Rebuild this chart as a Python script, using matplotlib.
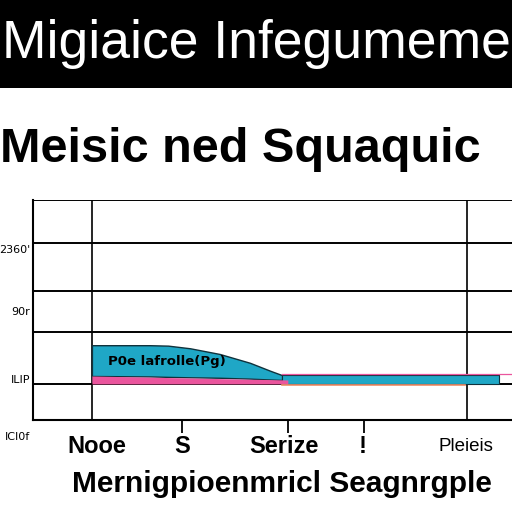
import numpy as np
import matplotlib
matplotlib.use("Agg")
import matplotlib.pyplot as plt
from matplotlib.patches import Rectangle

# text
title = "Migiaice Infegumeme"
subtitle = "Meisic ned Squaquic"
xlabel = "Mernigpioenmricl Seagnrgple"
band_label = "P0e lafrolle(Pg)"

# axis labels (garbled in the original)
ytick_labels = ["2360'", "90r", "ILIP", "ICI0f"]
ytick_pos = [3.86, 2.45, 0.91, -0.39]
xtick_labels = ["Nooe", "S", "Serize", "!", "Pleieis"]
xtick_pos = [13.4, 31.1, 52.4, 68.9, 90.4]
xtick_marks = [31.1, 53.2, 69.1]

grid_y = [0.82, 2.0, 2.93, 4.02, 5.0]
vlines_x = [12.3, 90.6]

# cyan area over the pink band
curve_x = [12.3, 24.4, 28.2, 32.8, 39.0, 45.3, 49.5, 52.0]
curve_top = [1.70, 1.70, 1.69, 1.63, 1.50, 1.30, 1.12, 1.02]
pink_top = [1.00, 0.99, 0.98, 0.97, 0.96, 0.94, 0.92, 0.91]
pink_end = 53.2

# flat cyan bar on the right
bar_x = [52.0, 97.3]
bar_low, bar_high = 0.82, 1.02

cyan = "#1fa7c6"
pink = "#ea559d"
sans = ["Liberation Sans", "DejaVu Sans"]

fig = plt.figure(figsize=(5.12, 5.12), dpi=100)
fig.patch.set_facecolor("white")

# black title band
fig.patches.append(Rectangle((0, 1 - 88 / 512), 1, 88 / 512, transform=fig.transFigure,
                             facecolor="black", edgecolor="none", zorder=0))
fig.text(0.5, 1 - 44 / 512, title, color="white", fontsize=38.5, ha="center", va="center",
         family=sans)
fig.text(0.0, 1 - 150 / 512, subtitle, color="black", fontsize=35, fontweight="bold",
         ha="left", va="center", family=sans)

ax = fig.add_axes([33 / 512, 92 / 512, 479 / 512, 220 / 512])
ax.set_xlim(0, 100)
ax.set_ylim(0, 5.0)

for y in grid_y:
    ax.axhline(y, color="black", lw=1.4, zorder=1)
for x in vlines_x:
    ax.axvline(x, color="black", lw=1.2, zorder=1)

# pink band and cyan area
ax.fill_between([curve_x[0], pink_end], [bar_low, bar_low], [pink_top[0], pink_top[-1]],
                color=pink, lw=0, zorder=3)
ax.fill_between(curve_x, pink_top, curve_top, color=cyan, edgecolor="#10323c", lw=1.0, zorder=2)
ax.fill_between(bar_x, [bar_low, bar_low], [bar_high, bar_high], color=cyan,
                edgecolor="#10323c", lw=0.8, zorder=2)
ax.plot([bar_x[0], 100], [bar_high + 0.03, bar_high + 0.03], color=pink, lw=0.9, zorder=4)
ax.plot([bar_x[0], 90.2], [bar_low - 0.03, bar_low - 0.03], color="#f0906a", lw=1.2, zorder=4)
ax.text(15.6, 1.32, band_label, fontsize=9.5, fontweight="bold", va="center", zorder=5)

for s in ["top", "right"]:
    ax.spines[s].set_visible(False)
for s in ["left", "bottom"]:
    ax.spines[s].set_linewidth(1.5)

ax.set_yticks([])
ax.set_xticks(xtick_marks)
ax.set_xticklabels([])
ax.tick_params(axis="x", direction="out", length=9, width=1.3)

for lab, y in zip(ytick_labels, ytick_pos):
    ax.text(-0.6, y, lab, fontsize=8, ha="right", va="center", clip_on=False)

for lab, x in zip(xtick_labels, xtick_pos):
    bold = lab != "Pleieis"
    ax.text(x, -0.6, lab, fontsize=17 if bold else 13.5, fontweight="bold" if bold else "normal",
            ha="center", va="center", clip_on=False, family=sans)

fig.text(282 / 512, 1 - 484 / 512, xlabel, fontsize=21.5, fontweight="bold", ha="center",
         va="center", family=sans)

fig.savefig("out.png", dpi=100)
